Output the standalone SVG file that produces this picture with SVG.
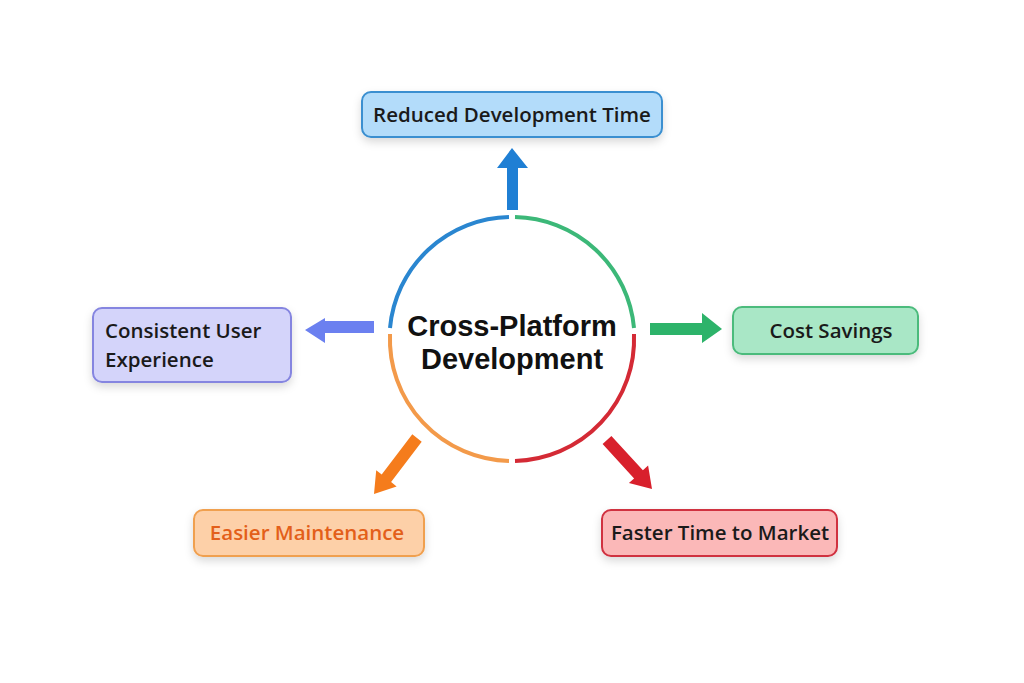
<svg xmlns="http://www.w3.org/2000/svg" width="1024" height="683" viewBox="0 0 1024 683">
<defs>
<filter id="sh" x="-20%" y="-30%" width="140%" height="170%">
<feDropShadow dx="0" dy="4" stdDeviation="4" flood-color="#000" flood-opacity="0.15"/>
</filter>
<style>
.box{stroke-width:2;filter:url(#sh)}
.lbl{font-family:"Open Sans","Liberation Sans",sans-serif;font-weight:600;font-size:20.5px;fill:#1a1a1a}
.arc{fill:none;stroke-width:4}
.ctr{font-family:"Liberation Sans",Arial,sans-serif;font-weight:700;font-size:29px;fill:#111;text-anchor:middle}
</style>
</defs>
<rect width="1024" height="683" fill="#ffffff"/>
<g id="center">
<path class="arc" stroke="#2a86d0" d="M 390 328 A 122 122 0 0 1 509 217"/>
<path class="arc" stroke="#3cb878" d="M 515 217 A 122 122 0 0 1 634 328"/>
<path class="arc" stroke="#d42a35" d="M 634 334 A 122 122 0 0 1 515 461"/>
<path class="arc" stroke="#f39a4a" d="M 509 461 A 122 122 0 0 1 390 334"/>
<text class="ctr" x="512" y="336">Cross-Platform</text>
<text class="ctr" x="512" y="369">Development</text>
</g>
<g id="connectors">
<polygon fill="#1f7fd4" points="507,210 518,210 518,168 528,168 512,148 497,168 507,168"/>
<polygon fill="#6b80f0" points="374,321 374,333 325,333 325,343 305,330 325,318 325,321"/>
<polygon fill="#2db36a" points="650,323 650,335 702,335 702,343 722,329 702,313 702,323"/>
<polygon fill="#f57c1c" points="421.7,441.7 391.1,482 396.6,486.4 374,494 376.2,470.2 381.7,474.6 412.3,434.3"/>
<polygon fill="#d8202c" points="602.6,444.1 634.1,478.4 628.9,483.1 652,489 648.1,465.5 642.9,470.2 611.4,435.9"/>
</g>
<g id="top">
<rect class="box" x="362" y="92" width="300" height="45" rx="9" fill="#b3dcfa" stroke="#3a8fd0"/>
<text class="lbl" x="512" y="122" text-anchor="middle">Reduced Development Time</text>
</g>
<g id="left">
<rect class="box" x="93" y="308" width="198" height="74" rx="9" fill="#d4d4fa" stroke="#8585e0"/>
<text class="lbl" x="105" y="338">Consistent User</text>
<text class="lbl" x="105" y="367">Experience</text>
</g>
<g id="right">
<rect class="box" x="733" y="307" width="185" height="47" rx="9" fill="#a9e7c6" stroke="#4cbb7c"/>
<text class="lbl" x="831" y="338" text-anchor="middle">Cost Savings</text>
</g>
<g id="bottomleft">
<rect class="box" x="194" y="510" width="230" height="46" rx="9" fill="#fdd0a8" stroke="#f0a050"/>
<text class="lbl" x="307" y="540" text-anchor="middle" style="fill:#e35f1a">Easier Maintenance</text>
</g>
<g id="bottomright">
<rect class="box" x="602" y="510" width="235" height="46" rx="9" fill="#fbb8b8" stroke="#d03040"/>
<text class="lbl" x="720" y="540" text-anchor="middle">Faster Time to Market</text>
</g>
</svg>
